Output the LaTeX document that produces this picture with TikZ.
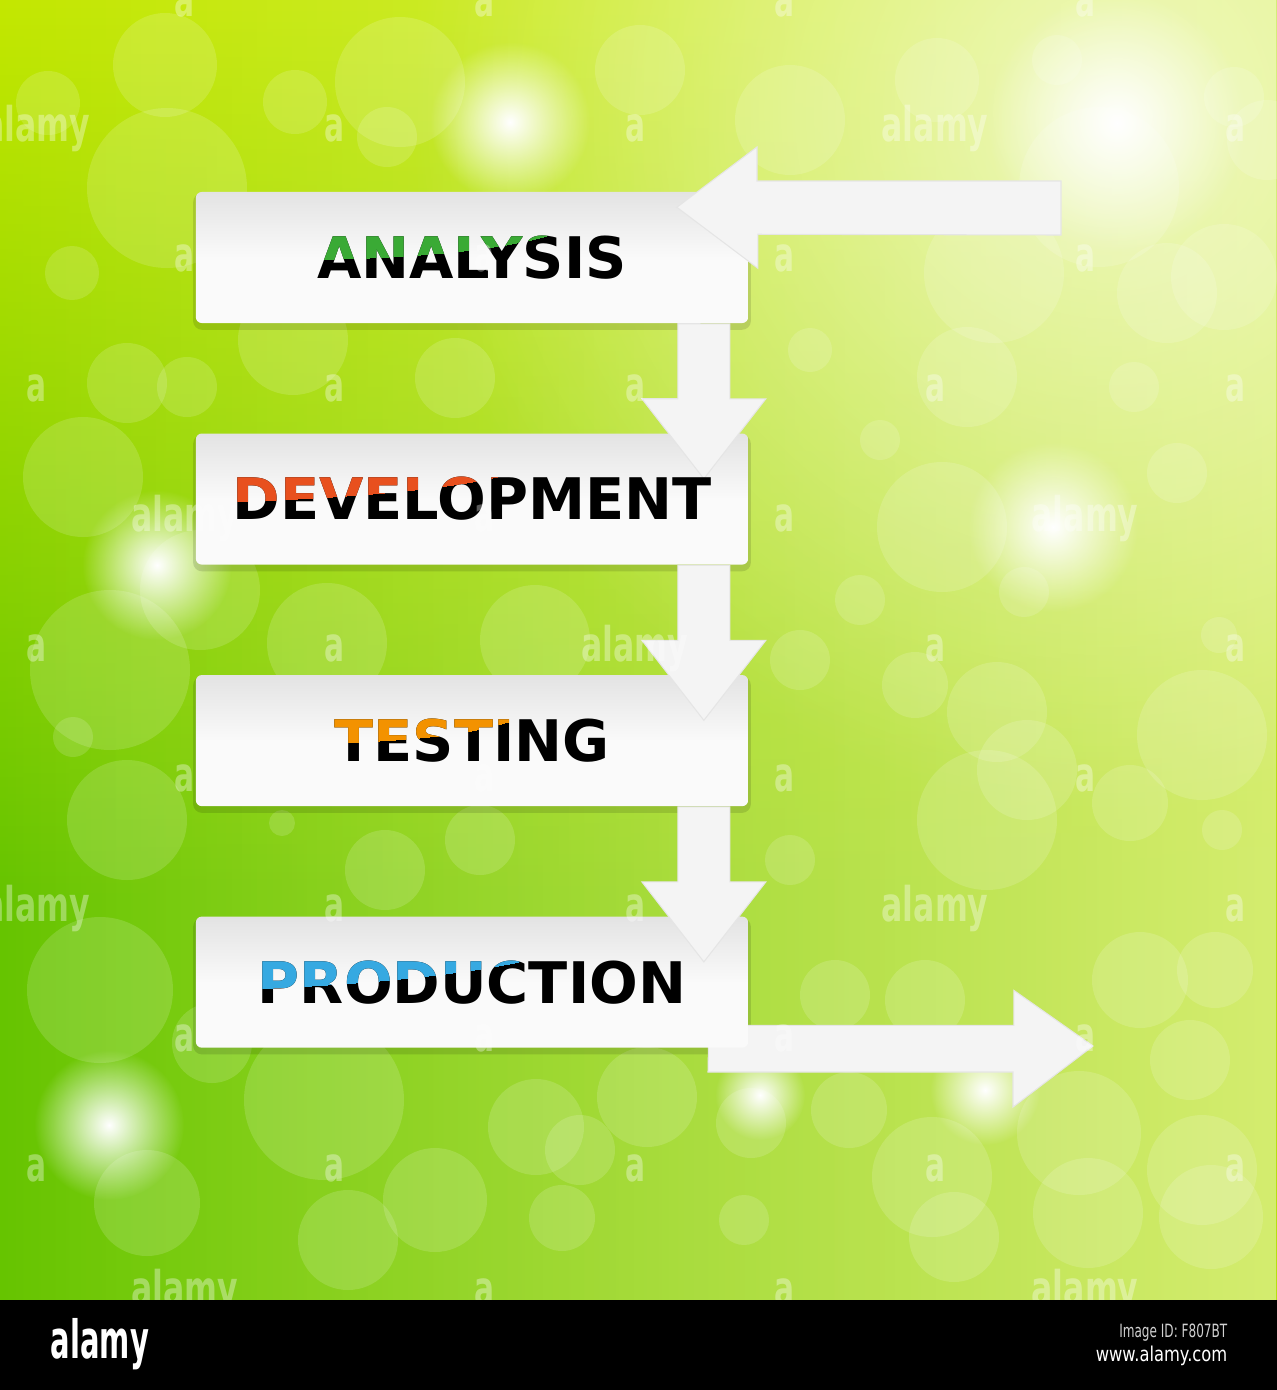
\documentclass[tikz,border=0pt]{standalone}
\usepackage{fontspec}
\usepackage{graphicx}
\newfontfamily\headfont{DejaVu Sans}
\usetikzlibrary{positioning, calc, fadings}

\definecolor{anagreen}{HTML}{3AAA35}
\definecolor{devorange}{HTML}{E8501E}
\definecolor{testorange}{HTML}{F39200}
\definecolor{prodblue}{HTML}{36A9E1}
\definecolor{bgleft}{HTML}{66C400}
\definecolor{bgright}{HTML}{B8E010}
\definecolor{bgtop}{HTML}{C4E800}
\definecolor{arrowgray}{HTML}{F4F4F4}

\tikzfading[name=fadetop, top color=transparent!0, bottom color=transparent!100]
\tikzfading[name=faderight, left color=transparent!100, right color=transparent!0]
\tikzfading[name=fadeglow, inner color=transparent!0, outer color=transparent!100]

\pgfdeclarelayer{back}
\pgfdeclarelayer{under}
\pgfsetlayers{back,under,main}

\tikzset{
  stepbox/.style={rectangle, rounded corners=1.7pt, minimum width=5.52cm, minimum height=1.31cm, inner sep=0pt,
    top color=black!11, bottom color=black!2, middle color=black!2},
  boxshadow/.style={fill=black, fill opacity=0.12, rounded corners=2.5pt},
  word/.style={inner sep=0pt, font=\headfont\bfseries\fontsize{16.3pt}{18pt}\selectfont},
  blockarrow/.style={fill=arrowgray, draw=black!10, line width=0.3pt},
  bokeh/.style={fill=white, fill opacity=0.15},
  glow/.style={fill=white, path fading=fadeglow},
  wmark/.style={inner sep=0pt, text=white, text opacity=0.35, font=\headfont\bfseries\fontsize{13.6pt}{15pt}\selectfont},
}

\begin{document}
\begin{tikzpicture}[x=0.01cm, y=-0.01cm]
\useasboundingbox (0,0) rectangle (1277,1390);

% background with bokeh
\begin{pgfonlayer}{back}
  \shade[left color=bgleft, right color=bgright] (0,0) rectangle (1277,1300);
  \fill[bgtop, path fading=fadetop] (0,0) rectangle (1277,900);
  \fill[white, opacity=0.4, path fading=faderight] (0,0) rectangle (1277,1300);
  \fill[white, opacity=0.6, path fading=fadeglow] (1110,110) circle [radius=7cm];
  \foreach \cx/\cy/\r in {165/65/52, 48/103/32, 167/188/80, 295/102/32, 400/82/65, 387/137/30, 72/273/27,
      293/340/55, 127/383/40, 187/387/30, 640/70/45, 790/120/55,
      937/80/42, 1057/60/25, 1099/187/80, 1234/97/30, 1267/140/40, 994/273/70, 1224/277/53,
      1167/293/50, 967/377/50, 1134/387/25,
      83/477/60, 110/670/80, 200/590/60, 73/737/20, 127/820/60, 282/823/13, 327/643/60,
      942/527/65, 1177/473/30, 1024/592/25, 1219/635/18, 915/685/33, 997/712/50, 1027/770/50,
      1202/735/65, 987/820/70, 1130/803/38, 1222/830/20,
      455/378/40, 535/640/55, 385/870/40, 480/840/35, 810/350/22, 880/440/20, 860/600/25,
      800/660/30, 790/860/25,
      100/990/73, 212/1043/40, 324/1100/80, 147/1203/53, 348/1240/50, 435/1200/52, 536/1127/48,
      580/1150/35, 562/1218/33, 647/1097/50, 751/1123/35, 849/1110/38, 932/1177/60, 1079/1133/62,
      1088/1213/55, 1202/1170/55, 1211/1217/52, 744/1220/25, 954/1237/45, 1140/980/48,
      1215/970/38, 1190/1060/40, 925/1000/40, 835/995/35}
    \fill[bokeh] (\cx,\cy) circle [radius=\r*0.01cm];
  \foreach \gx/\gy/\gr in {510/122/80, 1117/123/130, 1053/527/85, 157/565/75, 109/1125/75,
      985/1090/55, 760/1095/45}
    \fill[glow] (\gx,\gy) circle [radius=\gr*0.01cm];
\end{pgfonlayer}

% the four steps
\node[stepbox] (ana) at (472,257.5) {};
\node[stepbox, below=1.09cm of ana] (dev) {};
\node[stepbox, below=1.09cm of dev] (tst) {};
\node[stepbox, below=1.09cm of tst] (prod) {};
\begin{pgfonlayer}{under}
  \foreach \s in {ana, dev, tst, prod}
    \fill[boxshadow] ($(\s.south west)+(-2,6)$) rectangle ($(\s.north east)+(2,2)$);
\end{pgfonlayer}

% arrows
\coordinate (in) at (1061,208);
\path[blockarrow] ($(in)+(0,-27)$) -- ++(-304,0) -- ++(0,-34) -- ($(ana.north east)+(-72,16)$)
  -- ++(81,61) -- ++(0,-34) -- ($(in)+(0,27)$) -- cycle;
\foreach \a/\b in {ana/dev, dev/tst, tst/prod}
  \path[blockarrow] ($(\a.south east)+(-71,0)$) -- ++(0,75) -- ++(-36,0) -- ($(\b.north east)+(-45,46)$)
    -- ++(62,-80) -- ++(-36,0) -- ++(0,-75) -- cycle;
\begin{pgfonlayer}{under}
  \coordinate (out) at (1093,1046);
  \path[blockarrow] ($(prod.south east)+(-40,-23)$) -- ++(305,0) -- ++(0,-35) -- (out)
    -- ++(-80,61) -- ++(0,-35) -- ++(-305,0) -- cycle;
\end{pgfonlayer}

% labels, coloured on top
\node[word] (anat) at (ana) {ANALYSIS};
\node[word] (devt) at (dev) {DEVELOPMENT};
\node[word] (tstt) at (tst) {TESTING};
\node[word] (prodt) at (prod) {PRODUCTION};
\begin{scope}
  \clip (300,260) .. controls (420,258) and (510,250) .. (566,230) -- (566,220) -- (300,220) -- cycle;
  \node[word, text=anagreen] (anac) at (anat) {ANALYSIS};
\end{scope}
\begin{scope}
  \clip (225,502) .. controls (350,498) and (460,489) .. (516,472) -- (516,460) -- (225,460) -- cycle;
  \node[word, text=devorange] (devc) at (devt) {DEVELOPMENT};
\end{scope}
\begin{scope}
  \clip (325,743) .. controls (420,741) and (490,733) .. (534,712) -- (534,700) -- (325,700) -- cycle;
  \node[word, text=testorange] (tstc) at (tstt) {TESTING};
\end{scope}
\begin{scope}
  \clip (250,989) .. controls (380,984) and (500,971) .. (557,952) -- (557,940) -- (250,940) -- cycle;
  \node[word, text=prodblue] (prodc) at (prodt) {PRODUCTION};
\end{scope}

% watermarks
\foreach \wy/\wxs in {3/{185,485,785,1085}, 128/{335,635,1235}, 258/{185,485,785,1085},
    388/{37,335,635,935,1235}, 518/{485,785}, 648/{37,335,935,1235}, 778/{185,485,785,1085},
    908/{335,635,1235}, 1038/{185,485,785,1085}, 1168/{37,335,635,935,1235}, 1292/{485,785}}
  \foreach \wx in \wxs
    \node[wmark] (a-\wx-\wy) at (\wx,\wy) {\scalebox{0.62}[1]{a}};
\foreach \wx/\wy in {37/128, 935/128, 185/518, 1085/518, 635/648, 37/908, 935/908, 185/1292, 1085/1292}
  \node[wmark] (al-\wx-\wy) at (\wx,\wy) {\scalebox{0.66}[1]{alamy}};

% footer band
\fill[black] (0,1300) rectangle (1277,1390);
\node[inner sep=0pt, text=white, font=\headfont\bfseries\fontsize{15pt}{16pt}\selectfont] (logo) at (100,1344) {\scalebox{0.55}[1]{alamy}};
\node[inner sep=0pt, anchor=east, text=black!18, font=\headfont\fontsize{5.2pt}{6pt}\selectfont] (imgid) at (1228,1333) {\scalebox{0.66}[1]{Image ID: F807BT}};
\node[inner sep=0pt, anchor=east, text=white, font=\headfont\fontsize{5.8pt}{7pt}\selectfont] (site) at (1228,1356) {\scalebox{0.8}[1]{www.alamy.com}};
\end{tikzpicture}
\end{document}
